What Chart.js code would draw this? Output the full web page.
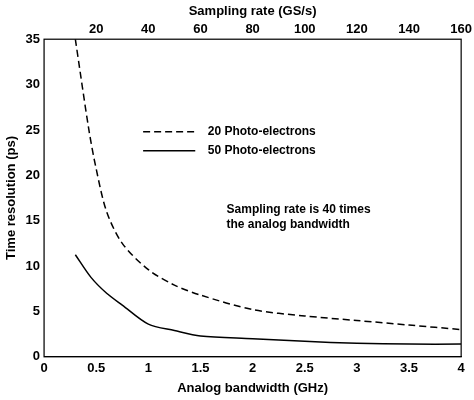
<!DOCTYPE html>
<html><head><script src="https://cdn.jsdelivr.net/npm/chart.js@4"></script>
<style>body{margin:0;background:#fff}#w{width:474px;height:400px}</style></head>
<body><div id="w"><canvas id="c"></canvas></div>
<script>
const bandwidth = [0.3,0.43,0.5,0.6,0.75,1,1.25,1.5,2,2.5,3,3.5,4];
const pe20 = [35,25,20.7,16,12.5,9.6,7.9,6.8,5.2,4.5,4,3.5,3];
const bwSolid = [0.3,0.45,0.6,0.75,1,1.25,1.5,2,2.5,3,3.5,4];
const pe50 = [11.25,8.75,7,5.7,3.6,2.9,2.3,2.0,1.7,1.5,1.4,1.4];
const legendLabels = ['20 Photo-electrons','50 Photo-electrons'];
const note = ['Sampling rate is 40 times','the analog bandwidth'];
const F = 'bold 12px "Liberation Sans", Arial, sans-serif';
const overlay = {id:'ov', afterDraw(ch){
  const c=ch.ctx, x=ch.scales.x, y=ch.scales.y;
  c.save(); c.fillStyle='#000'; c.strokeStyle='#000'; c.lineWidth=1.5; c.font=F; c.textBaseline='middle';
  const rows=[[24.8,[7,4]],[22.7,[]]];
  rows.forEach((r,i)=>{const py=y.getPixelForValue(r[0]);c.setLineDash(r[1]);c.beginPath();
    c.moveTo(x.getPixelForValue(0.95),py);c.lineTo(x.getPixelForValue(1.45),py);c.stroke();
    c.fillText(legendLabels[i],x.getPixelForValue(1.57),py);});
  c.setLineDash([]);
  note.forEach((t,i)=>c.fillText(t,x.getPixelForValue(1.75),y.getPixelForValue(16.2-i*1.6)));
  c.lineWidth=1.2; c.strokeRect(ch.chartArea.left,ch.chartArea.top,ch.chartArea.width,ch.chartArea.height);
  c.restore();}};
const tf = {weight:'bold',size:13,family:'Liberation Sans'};
new Chart(document.getElementById('c'),{type:'line',
 data:{datasets:[
  {data:bandwidth.map((v,i)=>({x:v,y:pe20[i]})),borderColor:'#000',borderWidth:1.5,borderDash:[7,4],pointRadius:0,tension:0.3},
  {data:bwSolid.map((v,i)=>({x:v,y:pe50[i]})),borderColor:'#000',borderWidth:1.5,pointRadius:0,tension:0.3}]},
 options:{animation:false,responsive:true,maintainAspectRatio:false,layout:{padding:{right:8}},
  plugins:{legend:{display:false},tooltip:{enabled:false}},
  scales:{
   x:{type:'linear',min:0,max:4,grid:{display:false,drawTicks:false},border:{color:'#000'},
      ticks:{stepSize:0.5,color:'#000',font:tf,padding:4,callback:v=>String(+v.toFixed(1))},
      title:{display:true,text:'Analog bandwidth (GHz)',color:'#000',font:tf,padding:{top:0}}},
   x2:{type:'linear',position:'top',min:0,max:160,grid:{display:false,drawTicks:false},
      ticks:{stepSize:20,color:'#000',font:tf,padding:2,callback:v=>v===0?'':v},
      title:{display:true,text:'Sampling rate (GS/s)',color:'#000',font:tf,padding:{bottom:0}}},
   y:{min:0,max:35,grid:{display:false,drawTicks:false},
      ticks:{stepSize:5,color:'#000',font:tf,padding:4},
      title:{display:true,text:'Time resolution (ps)',color:'#000',font:tf,padding:{bottom:2}}}}},
 plugins:[overlay]});
</script></body></html>
